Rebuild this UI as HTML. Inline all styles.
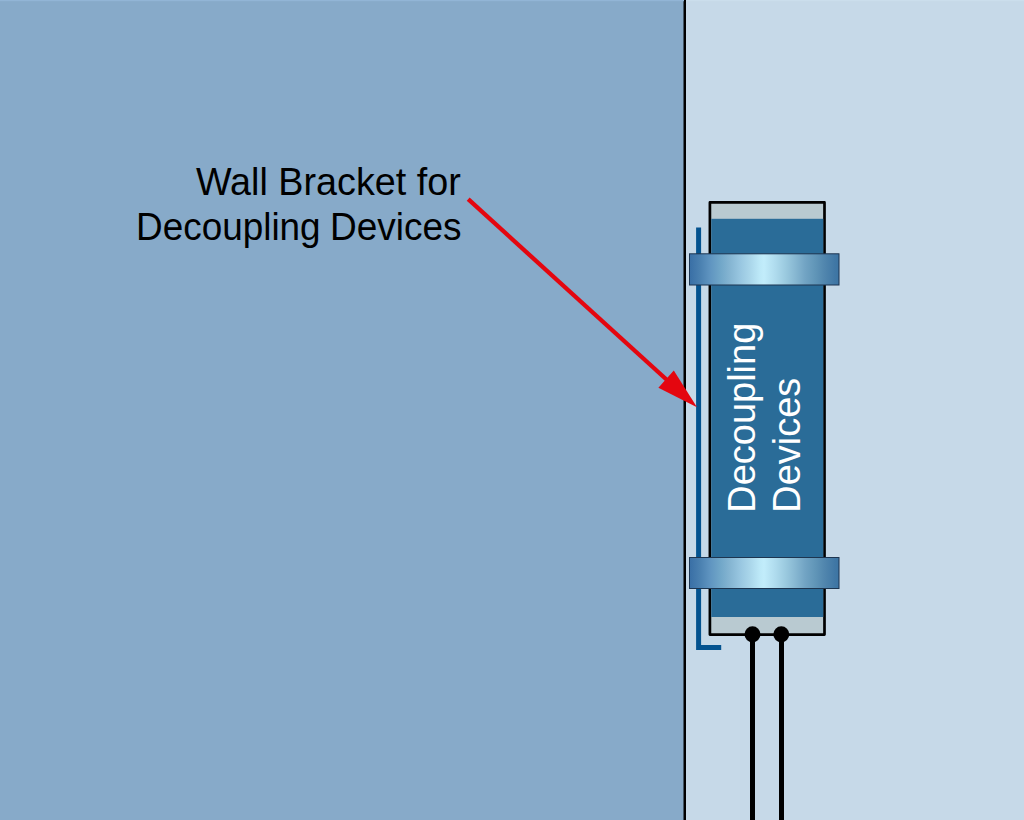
<!DOCTYPE html>
<html>
<head>
<meta charset="utf-8">
<style>
html,body{margin:0;padding:0;width:1024px;height:820px;overflow:hidden;background:#87aac9;}
svg{display:block;}
text{font-family:"Liberation Sans", sans-serif;}
</style>
</head>
<body>
<svg width="1024" height="820" viewBox="0 0 1024 820">
  <defs>
    <linearGradient id="band" x1="689" y1="0" x2="839.5" y2="0" gradientUnits="userSpaceOnUse">
      <stop offset="0.0000" stop-color="#386ea5"/>
      <stop offset="0.0731" stop-color="#4a80b0"/>
      <stop offset="0.1395" stop-color="#5f94c0"/>
      <stop offset="0.2060" stop-color="#70a6c8"/>
      <stop offset="0.2724" stop-color="#85b5d2"/>
      <stop offset="0.3389" stop-color="#98c6e0"/>
      <stop offset="0.4053" stop-color="#aad6ea"/>
      <stop offset="0.4718" stop-color="#bde9f8"/>
      <stop offset="0.4983" stop-color="#c2edfb"/>
      <stop offset="0.5714" stop-color="#b0dcee"/>
      <stop offset="0.6379" stop-color="#9ccbe0"/>
      <stop offset="0.7043" stop-color="#88b8d2"/>
      <stop offset="0.7708" stop-color="#72a4c4"/>
      <stop offset="0.8372" stop-color="#6196b8"/>
      <stop offset="0.9037" stop-color="#5085ad"/>
      <stop offset="0.9701" stop-color="#4077a5"/>
      <stop offset="1.0000" stop-color="#3c74a3"/>
    </linearGradient>
  </defs>
  <rect x="0" y="0" width="685" height="820" fill="#87aac9"/>
  <rect x="685" y="0" width="339" height="820" fill="#c6d9e8"/>
  <rect x="683.5" y="0" width="2.5" height="820" fill="#000"/>
  <rect x="0" y="0" width="684" height="1.2" fill="#92b5d6"/>
  <rect x="686" y="0" width="338" height="1.2" fill="#cbdeec"/>

  <!-- bracket -->
  <path d="M698.6 227.5 V647.5 H721.2" fill="none" stroke="#04538f" stroke-width="5" stroke-linejoin="miter"/>

  <!-- wires -->
  <rect x="750" y="634" width="5" height="186" fill="#000"/>
  <rect x="779" y="634" width="5" height="186" fill="#000"/>

  <!-- device box -->
  <rect x="709.9" y="202.4" width="114.6" height="432.2" fill="#b9cad1" stroke="#000" stroke-width="2.7" stroke-linejoin="round"/>
  <rect x="711.25" y="218.8" width="112" height="398.2" fill="#2a6c98"/>

  <!-- dots -->
  <circle cx="752.5" cy="634.3" r="8" fill="#000"/>
  <circle cx="781.3" cy="634.3" r="8" fill="#000"/>

  <!-- bands -->
  <rect x="689.5" y="253.8" width="149.5" height="31.2" fill="url(#band)" stroke="#1d3550" stroke-width="1"/>
  <rect x="689.5" y="557.5" width="149.5" height="31" fill="url(#band)" stroke="#1d3550" stroke-width="1"/>

  <!-- vertical label -->
  <text transform="translate(755 512.8) rotate(-90)" fill="#fff" font-size="38">Decoupling</text>
  <text transform="translate(800 512.8) rotate(-90)" fill="#fff" font-size="38">Devices</text>

  <!-- left label -->
  <text transform="translate(195.9 194.9) scale(0.9936 1)" font-size="38" fill="#000">Wall Bracket for</text>
  <text transform="translate(136.1 239.6) scale(0.9707 1)" font-size="38" fill="#000">Decoupling</text>
  <text transform="translate(330 239.6) scale(0.9743 1)" font-size="38" fill="#000">Devices</text>

  <!-- arrow -->
  <line x1="468.2" y1="199.2" x2="667" y2="380" stroke="#e4060f" stroke-width="4.3"/>
  <polygon points="697,407.2 673.8,370.5 658.4,387.7" fill="#e4060f"/>
</svg>
</body>
</html>
